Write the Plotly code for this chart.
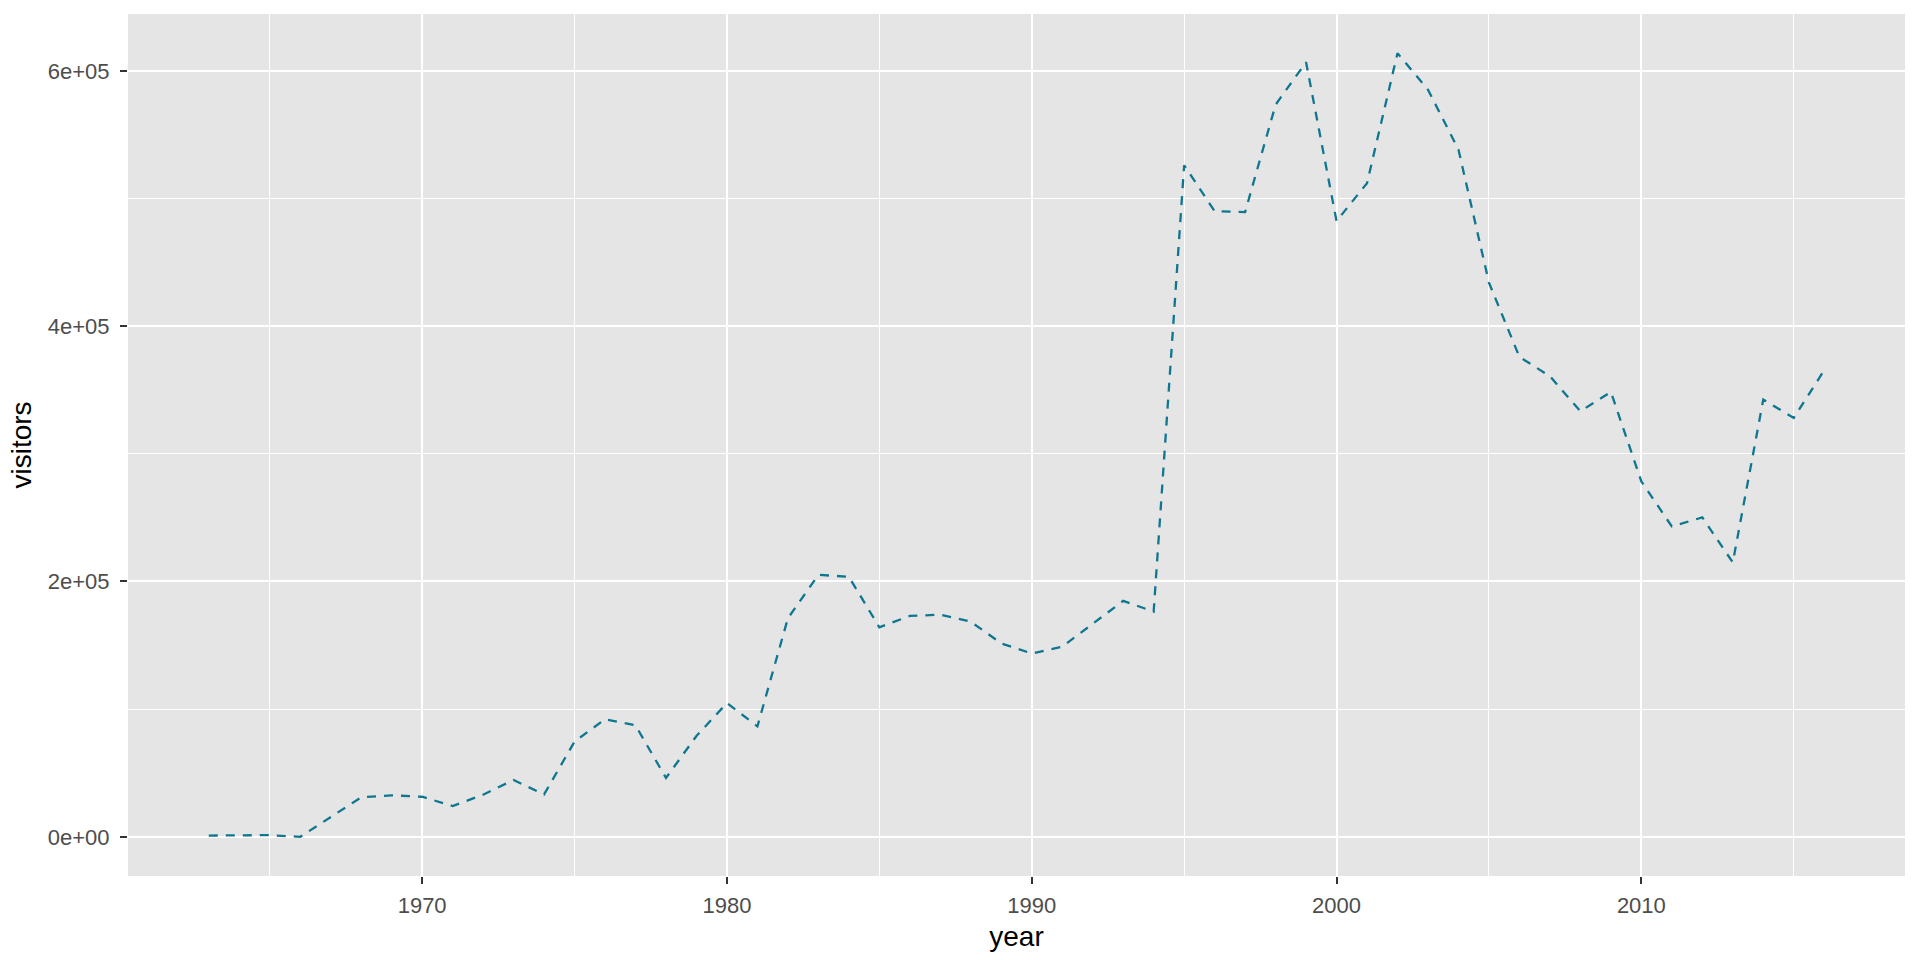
"""Visitors per year: dashed line in ggplot grey style."""
import plotly.graph_objects as go

# data
years = list(range(1963, 2017))
visitors = [
    1000, 1300, 1300, 0, 15500, 30900, 32500,
    31400, 24100, 33000, 44500, 33200, 74600, 92100, 87300, 46100, 79000,
    104800, 86500, 171200, 205200, 203700, 164100, 173000, 174000, 168500, 151500,
    143600, 148900, 166700, 184800, 176400, 526000, 490100, 489300, 573400, 606800,
    482300, 512000, 613800, 585200, 538300, 434100, 375900, 360800, 333300, 348500,
    278400, 243100, 250200, 214900, 342500, 328100, 365500,
]
x_ticks = [1970, 1980, 1990, 2000, 2010]
y_ticks = [0, 200000, 400000, 600000]
y_labels = ["0e+00", "2e+05", "4e+05", "6e+05"]


def padded(vals, frac=0.05):
    """ggplot style 5% expansion."""
    lo, hi = min(vals), max(vals)
    pad = (hi - lo) * frac
    return [lo - pad, hi + pad]


fig = go.Figure()
fig.add_trace(go.Scatter(
    x=years, y=visitors, mode="lines",
    line=dict(color="#0F7690", width=2.3, dash="9px,8px"),
    showlegend=False,
))

tick_font = dict(family="Arial, Liberation Sans, sans-serif", size=22, color="#4D4D4D")
title_font = dict(family="Arial, Liberation Sans, sans-serif", size=28, color="#000000")

fig.update_layout(
    width=1920, height=960,
    margin=dict(l=128, r=15, t=14, b=84),
    paper_bgcolor="white",
    plot_bgcolor="#E5E5E5",
    xaxis=dict(
        range=padded(years), tickmode="array", tickvals=x_ticks,
        ticks="outside", ticklen=7, tickwidth=1.6, tickcolor="#333333",
        tickfont=tick_font, ticklabelstandoff=3,
        showgrid=True, gridcolor="white", gridwidth=2.2,
        zeroline=False, showline=False,
        minor=dict(tickmode="linear", tick0=1965, dtick=10, showgrid=True,
                   gridcolor="white", gridwidth=1.1, ticks=""),
        title=dict(text="year", font=title_font, standoff=8),
        automargin=False,
    ),
    yaxis=dict(
        range=padded(visitors), tickmode="array", tickvals=y_ticks, ticktext=y_labels,
        ticks="outside", ticklen=7, tickwidth=1.6, tickcolor="#333333",
        tickfont=tick_font, ticklabelstandoff=6,
        showgrid=True, gridcolor="white", gridwidth=2.2,
        zeroline=False, showline=False,
        minor=dict(tickmode="linear", tick0=100000, dtick=200000, showgrid=True,
                   gridcolor="white", gridwidth=1.1, ticks=""),
        title=dict(text="visitors", font=title_font, standoff=8),
        automargin=False,
    ),
)

fig.write_html("out.html", config={"displayModeBar": False},
               post_script="document.body.style.margin='0';")
